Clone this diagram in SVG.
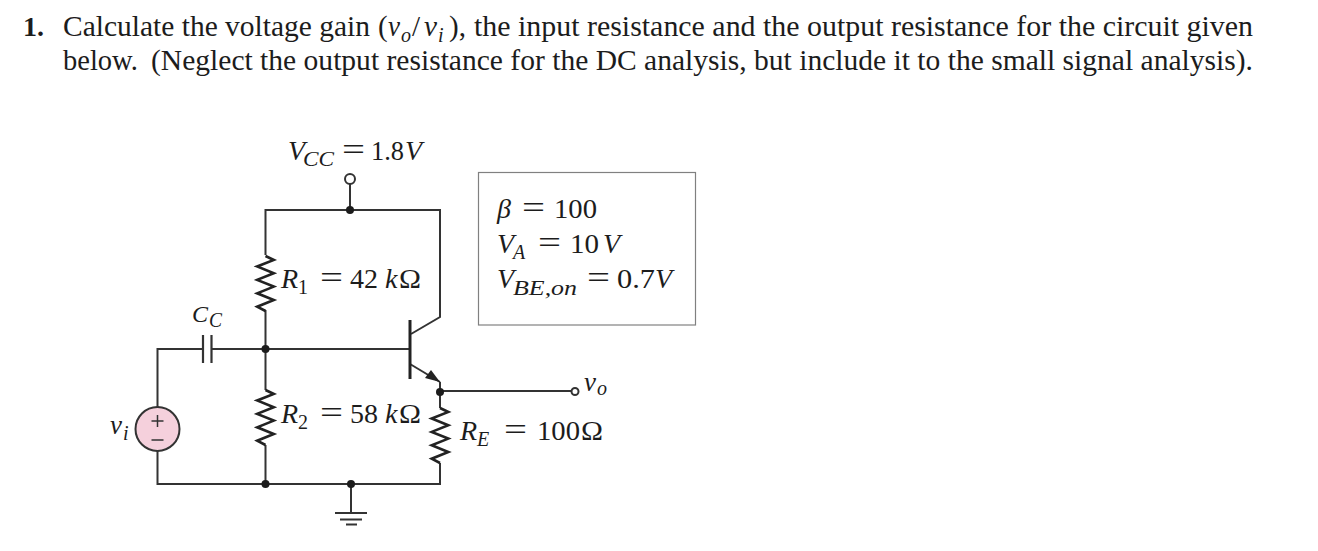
<svg xmlns="http://www.w3.org/2000/svg" width="1318" height="551" viewBox="0 0 1318 551">
<style>
text{font-family:"Liberation Serif","Times New Roman",serif;fill:#1c1c1c}
.t{font-size:29px}
.b{font-size:28px;font-weight:bold}
.m{font-size:28px}
.s{font-size:20px}
.i{font-style:italic}
.e{font-size:32px}
.w{fill:none;stroke:#333;stroke-width:2;stroke-linejoin:miter}
.r{fill:none;stroke:#222;stroke-width:2.6;stroke-linejoin:miter}
.d{fill:#1c1c1c;stroke:none}
.o{fill:#fff;stroke:#333;stroke-width:2}
</style>
<defs>
<path id="res" d="M0 0L8.300 4L-8.300 10.500L8.300 17.200L-8.300 23.900L8.300 30.600L-8.300 37.300L8.300 44L-8.300 50.700L0 55" class="r"/>
</defs>
<rect width="1318" height="551" fill="#fff"/>
<g id="problem">
<text class="b" x="23" y="36">1.</text>
<text class="t" y="36"><tspan x="63" textLength="307" lengthAdjust="spacingAndGlyphs">Calculate the voltage gain</tspan><tspan x="378">(</tspan><tspan x="388" class="i" textLength="12" lengthAdjust="spacingAndGlyphs">v</tspan><tspan x="401" y="42" class="s i">o</tspan><tspan x="412" y="36">/</tspan><tspan x="424" class="i" textLength="13" lengthAdjust="spacingAndGlyphs">v</tspan><tspan x="438" y="42" class="s i">i</tspan><tspan x="449" y="36">),</tspan><tspan x="474" textLength="779" lengthAdjust="spacingAndGlyphs">the input resistance and the output resistance for the circuit given</tspan></text>
<text class="t" y="70"><tspan x="63" textLength="75" lengthAdjust="spacingAndGlyphs">below.</tspan><tspan x="151" textLength="1102" lengthAdjust="spacingAndGlyphs">(Neglect the output resistance for the DC analysis, but include it to the small signal analysis).</tspan></text>
</g>
<g id="connectors">
<path class="w" d="M350 184V210M265.500 255V210H440V317L411 334"/>
<path class="w" d="M265.500 310V390M265.500 445V484M157.500 407V349H203M212 349H410M157.500 451V484H440V463M440 408V382M440 391H571"/>
<path class="w" d="M410 364L440 382"/>
<path d="M440 382L425 378L431 370Z" fill="#222"/>
<path class="w" d="M351 484V513"/>
<path d="M335 513H367M340 519.500H362M346 524.500H357" fill="none" stroke="#333" stroke-width="2"/>
</g>
<g id="vcc"><circle class="o" cx="350" cy="179" r="5"/><circle class="d" cx="350" cy="210" r="4"/>
<text class="m" y="160"><tspan x="288" class="i">V</tspan><tspan x="303" y="166" class="s i" textLength="31" lengthAdjust="spacingAndGlyphs">CC</tspan><tspan x="342" y="160" class="e" textLength="23" lengthAdjust="spacingAndGlyphs">=</tspan><tspan x="371" textLength="33" lengthAdjust="spacingAndGlyphs">1.8</tspan><tspan x="405" class="i">V</tspan></text></g>
<g id="r1"><use href="#res" x="265.500" y="256"/>
<text class="m" y="288"><tspan x="281" class="i">R</tspan><tspan x="298" y="294" class="s">1</tspan><tspan x="320" y="288" class="e" textLength="23" lengthAdjust="spacingAndGlyphs">=</tspan><tspan x="350">42</tspan><tspan x="385" class="i">k</tspan><tspan x="399" textLength="22" lengthAdjust="spacingAndGlyphs">Ω</tspan></text></g>
<g id="r2"><use href="#res" x="265.500" y="390"/>
<text class="m" y="423"><tspan x="281" class="i">R</tspan><tspan x="298" y="429" class="s">2</tspan><tspan x="320" y="423" class="e" textLength="23" lengthAdjust="spacingAndGlyphs">=</tspan><tspan x="350">58</tspan><tspan x="385" class="i">k</tspan><tspan x="399" textLength="22" lengthAdjust="spacingAndGlyphs">Ω</tspan></text></g>
<g id="re"><use href="#res" x="440" y="408"/>
<text class="m" y="440"><tspan x="460" class="i">R</tspan><tspan x="477" y="446" class="s i">E</tspan><tspan x="504" y="440" class="e" textLength="23" lengthAdjust="spacingAndGlyphs">=</tspan><tspan x="537" textLength="43" lengthAdjust="spacingAndGlyphs">100</tspan><tspan x="581" textLength="22" lengthAdjust="spacingAndGlyphs">Ω</tspan></text></g>
<g id="cc"><path d="M203 335V363M211.500 335V363" fill="none" stroke="#333" stroke-width="2.200"/>
<text class="i" font-size="24" x="192" y="322">C</text><text class="s i" x="209" y="327" textLength="13" lengthAdjust="spacingAndGlyphs">C</text></g>
<g id="vi"><circle cx="157.500" cy="429" r="22" fill="#f5d0dc" stroke="#333" stroke-width="2"/>
<path d="M151.500 421H163.500M157.500 415V427M151.500 440H163.500" fill="none" stroke="#333" stroke-width="1.500"/>
<text class="m i" x="110" y="434" textLength="12" lengthAdjust="spacingAndGlyphs">v</text><text class="s i" x="123" y="440">i</text></g>
<g id="transistor"><path d="M410 320V379" fill="none" stroke="#222" stroke-width="3"/></g>
<g id="junctions"><circle class="d" cx="265.500" cy="349" r="4"/><circle class="d" cx="265.500" cy="484" r="4"/><circle class="d" cx="351" cy="484" r="4"/><circle class="d" cx="440" cy="392" r="4"/></g>
<g id="vo"><circle class="o" cx="575" cy="391.500" r="3.500"/>
<text class="m i" x="584" y="391" textLength="12" lengthAdjust="spacingAndGlyphs">v</text><text class="s i" x="597" y="395">o</text></g>
<g id="params"><rect x="478.500" y="172.500" width="217" height="152.500" fill="#fff" stroke="#808080" stroke-width="1.200"/>
<text class="m" y="218"><tspan x="497" class="i">β</tspan><tspan x="522" class="e" textLength="23" lengthAdjust="spacingAndGlyphs">=</tspan><tspan x="554" textLength="43" lengthAdjust="spacingAndGlyphs">100</tspan></text>
<text class="m" y="253"><tspan x="497" class="i">V</tspan><tspan x="513" y="259" class="s i">A</tspan><tspan x="538" y="253" class="e" textLength="23" lengthAdjust="spacingAndGlyphs">=</tspan><tspan x="570" textLength="29" lengthAdjust="spacingAndGlyphs">10</tspan><tspan x="603" class="i">V</tspan></text>
<text class="m" y="288"><tspan x="497" class="i">V</tspan><tspan x="513" y="295" class="s i" textLength="64" lengthAdjust="spacingAndGlyphs">BE,on</tspan><tspan x="587" y="288" class="e" textLength="23" lengthAdjust="spacingAndGlyphs">=</tspan><tspan x="617" textLength="38" lengthAdjust="spacingAndGlyphs">0.7</tspan><tspan x="655" class="i">V</tspan></text></g>
</svg>
